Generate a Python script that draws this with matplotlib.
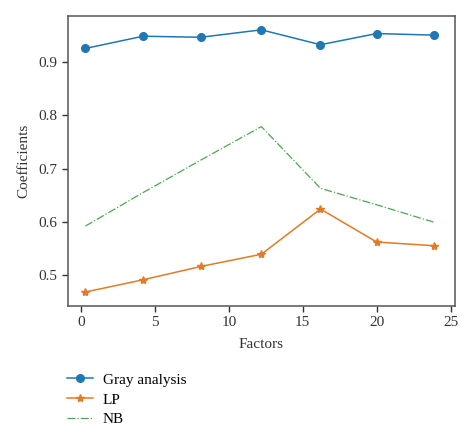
import matplotlib
matplotlib.use("Agg")
import matplotlib.pyplot as plt

factors = [0.3, 4.2, 8.1, 12.2, 16.2, 20.0, 23.9]
gray_analysis = [0.926, 0.949, 0.947, 0.961, 0.933, 0.954, 0.951]
lp = [0.468, 0.491, 0.516, 0.539, 0.624, 0.562, 0.555]
nb = [0.592, 0.655, 0.716, 0.779, 0.663, 0.632, 0.599]
x_ticks = [0, 5, 10, 15, 20, 25]
y_ticks = [0.5, 0.6, 0.7, 0.8, 0.9]

plt.rcParams['font.family'] = ['Liberation Serif', 'DejaVu Serif']
plt.rcParams['font.size'] = 11

fig = plt.figure(figsize=(4.74, 4.38), dpi=100)
ax = fig.add_axes([68/474, 1-306/438, (455-68)/474, (306-16)/438])

ax.plot(factors, gray_analysis, color='#1f77b4', marker='o', markersize=5.5, lw=1.1, label='Gray analysis')
ax.plot(factors, lp, color='#e07b28', marker='*', markersize=6, lw=1.1, label='LP')
ax.plot(factors, nb, color='#4fa64f', ls='-.', lw=0.9, label='NB')

ax.set_xlim(-0.88, 25.3)
ax.set_ylim(0.4417, 0.987)
ax.set_xticks(x_ticks)
ax.set_yticks(y_ticks)
ax.set_xticklabels([str(t) for t in x_ticks])
ax.set_yticklabels([f"{t:.1f}" for t in y_ticks])
ax.set_xlabel('Factors', color='#333333', labelpad=6)
ax.set_ylabel('Coefficients', color='#333333', labelpad=6)
for s in ax.spines.values():
    s.set_color('#555555')
    s.set_linewidth(1.1)
ax.tick_params(colors='#333333', length=4, width=1, labelcolor='#333333')

handles, labels = ax.get_legend_handles_labels()
fig.legend(handles, labels, loc='upper left', bbox_to_anchor=(67/474, 1-373/438),
           frameon=False, handlelength=1.7, handletextpad=0.65, labelspacing=0.4,
           borderaxespad=0, borderpad=0)

fig.savefig('out.png', dpi=100)
